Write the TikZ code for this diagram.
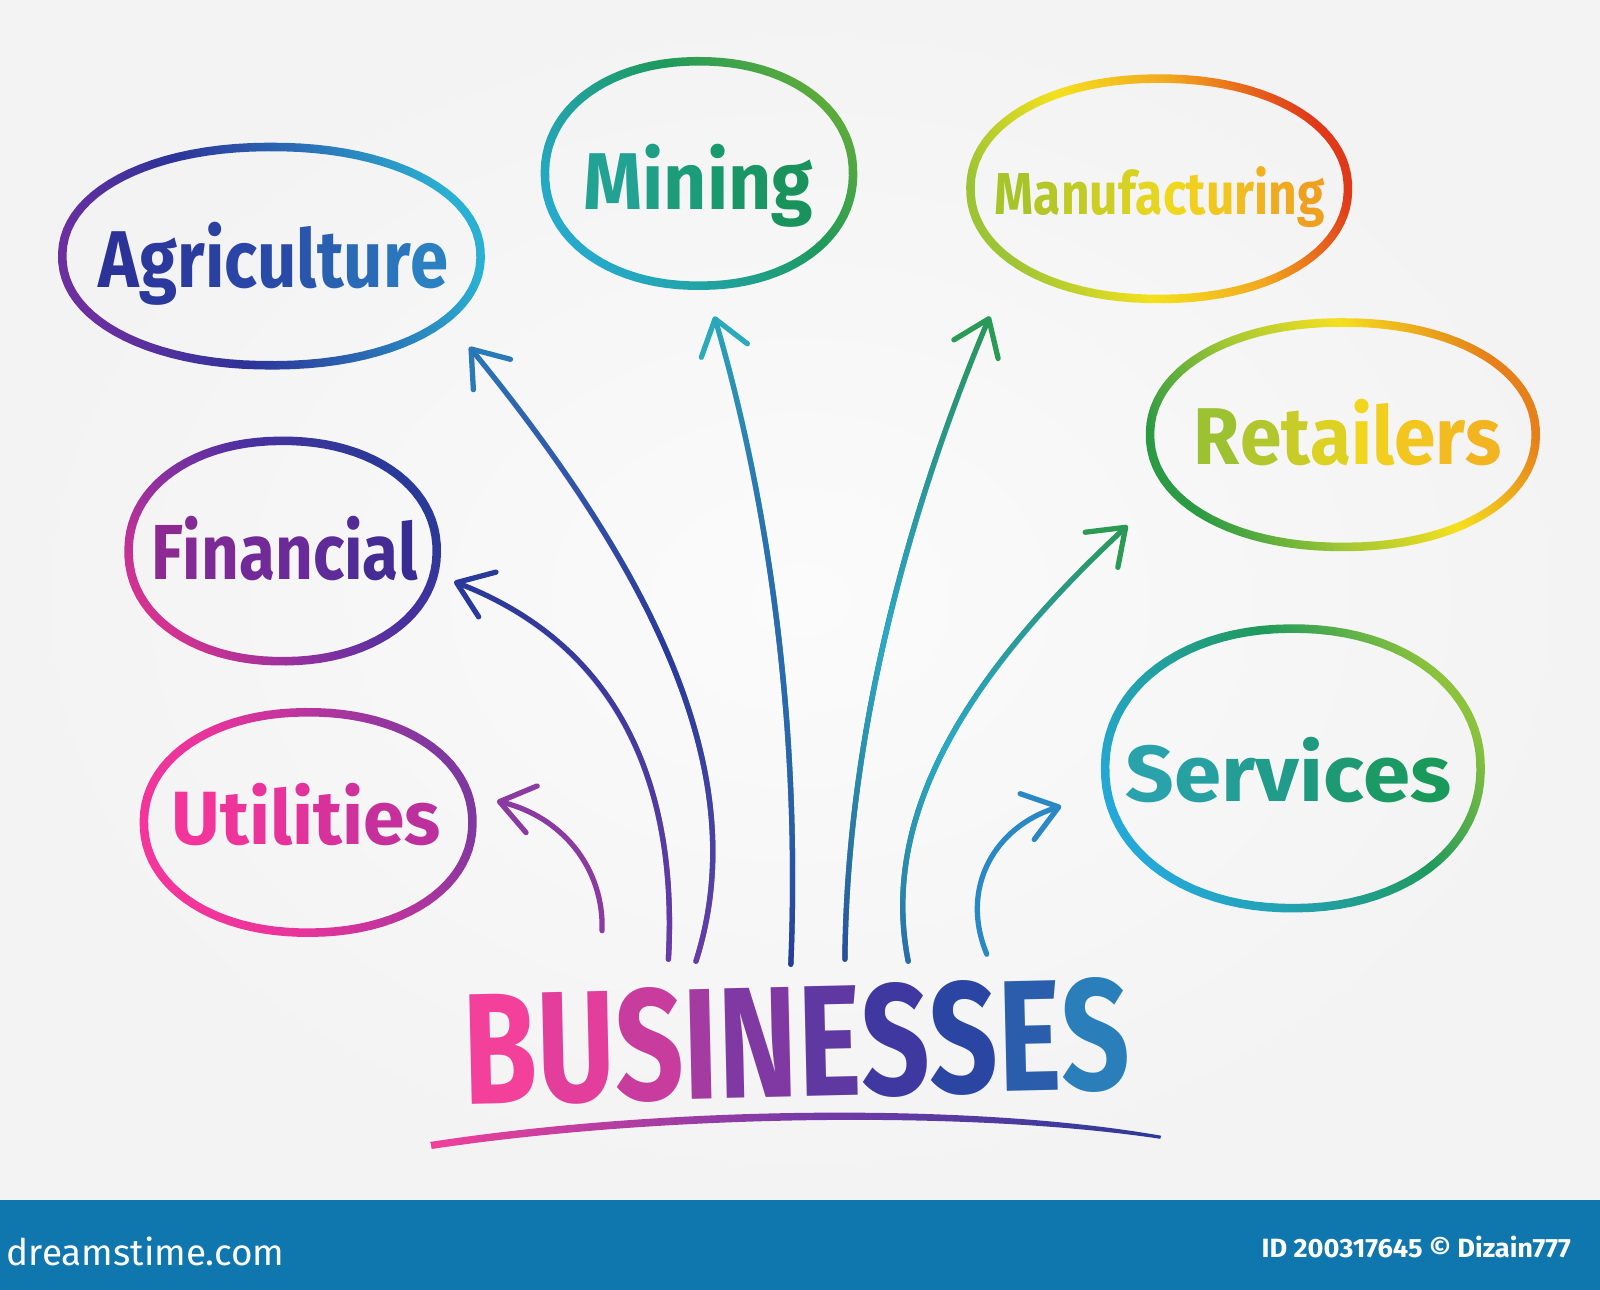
\documentclass[tikz,border=0pt]{standalone}
\usepackage{fontspec}
\setmainfont{Fira Sans}
\usetikzlibrary{arrows.meta,fadings}
\newlength\upx
\setlength\upx{0.010204cm}
% background / bar
\definecolor{bgin}{HTML}{FBFBFB}
\definecolor{bgout}{HTML}{F3F3F3}
\definecolor{barc}{HTML}{1077AE}
% ellipse shading colours
\definecolor{ag1}{HTML}{6B2FA0}\definecolor{ag2}{HTML}{2C3399}\definecolor{ag3}{HTML}{2A6CB4}\definecolor{ag4}{HTML}{2AB0D2}
\definecolor{mi1}{HTML}{25AACB}\definecolor{mi2}{HTML}{20A196}\definecolor{mi3}{HTML}{1E9A5C}\definecolor{mi4}{HTML}{5AAA3C}
\definecolor{ma1}{HTML}{9CC434}\definecolor{ma2}{HTML}{F3E11D}\definecolor{ma3}{HTML}{F2A81E}\definecolor{ma4}{HTML}{E0391A}
\definecolor{re1}{HTML}{2A9A44}\definecolor{re2}{HTML}{A4C832}\definecolor{re3}{HTML}{F5E01E}\definecolor{re4}{HTML}{E5801A}
\definecolor{fi1}{HTML}{D23391}\definecolor{fi2}{HTML}{8A30A0}\definecolor{fi3}{HTML}{4A30A0}\definecolor{fi4}{HTML}{293A98}
\definecolor{ut1}{HTML}{F4359B}\definecolor{ut2}{HTML}{E6349B}\definecolor{ut3}{HTML}{B8349E}\definecolor{ut4}{HTML}{7E38A0}
\definecolor{se1}{HTML}{24A8D8}\definecolor{se2}{HTML}{22A0A2}\definecolor{se3}{HTML}{1F9A5C}\definecolor{se4}{HTML}{8CC23C}
% text colours
\definecolor{agt1}{HTML}{2B3399}\definecolor{agt2}{HTML}{2A4AA8}\definecolor{agt3}{HTML}{2A80C0}
\definecolor{mit1}{HTML}{22A292}\definecolor{mit2}{HTML}{1A9A72}\definecolor{mit3}{HTML}{1A925C}
\definecolor{mat1}{HTML}{A8C428}\definecolor{mat2}{HTML}{F0D81E}\definecolor{mat3}{HTML}{F0A020}
\definecolor{ret1}{HTML}{9CC232}\definecolor{ret2}{HTML}{F2D61E}\definecolor{ret3}{HTML}{F2B420}
\definecolor{fit1}{HTML}{8C2A92}\definecolor{fit2}{HTML}{6A2A9A}\definecolor{fit3}{HTML}{382C92}
\definecolor{utt1}{HTML}{F2349B}\definecolor{utt2}{HTML}{E2329B}\definecolor{utt3}{HTML}{BC309E}
\definecolor{set1}{HTML}{2AA2AC}\definecolor{set2}{HTML}{1F9A84}\definecolor{set3}{HTML}{1A9A5A}
% arrow colours
\definecolor{arpurple}{HTML}{8A3AA0}
\definecolor{ardark}{HTML}{2A3A9A}
\definecolor{arviolet}{HTML}{6E3AA8}
\definecolor{arblue}{HTML}{2A7AB8}
\definecolor{armid}{HTML}{2A6AB0}
\definecolor{arteal}{HTML}{2AAABB}
\definecolor{argreen}{HTML}{2A9A55}
\definecolor{arcyan}{HTML}{2AAAC8}
\definecolor{arbot}{HTML}{2A4AA0}
\definecolor{arserv}{HTML}{2A88C4}
% underline
\definecolor{ul1}{HTML}{F0409A}\definecolor{ul2}{HTML}{7A3AA8}\definecolor{ul3}{HTML}{2A3A98}

\pgfdeclarehorizontalshading{agrish}{100bp}{color(0bp)=(ag1); color(25bp)=(ag1); color(42bp)=(ag2); color(58bp)=(ag3); color(75bp)=(ag4); color(100bp)=(ag4)}
\pgfdeclarehorizontalshading{minsh}{100bp}{color(0bp)=(mi1); color(25bp)=(mi1); color(42bp)=(mi2); color(58bp)=(mi3); color(75bp)=(mi4); color(100bp)=(mi4)}
\pgfdeclarehorizontalshading{mansh}{100bp}{color(0bp)=(ma1); color(25bp)=(ma1); color(42bp)=(ma2); color(58bp)=(ma3); color(75bp)=(ma4); color(100bp)=(ma4)}
\pgfdeclarehorizontalshading{retsh}{100bp}{color(0bp)=(re1); color(25bp)=(re1); color(42bp)=(re2); color(58bp)=(re3); color(75bp)=(re4); color(100bp)=(re4)}
\pgfdeclarehorizontalshading{finsh}{100bp}{color(0bp)=(fi1); color(25bp)=(fi1); color(42bp)=(fi2); color(58bp)=(fi3); color(75bp)=(fi4); color(100bp)=(fi4)}
\pgfdeclarehorizontalshading{utish}{100bp}{color(0bp)=(ut1); color(25bp)=(ut1); color(42bp)=(ut2); color(58bp)=(ut3); color(75bp)=(ut4); color(100bp)=(ut4)}
\pgfdeclarehorizontalshading{sersh}{100bp}{color(0bp)=(se1); color(25bp)=(se1); color(42bp)=(se2); color(58bp)=(se3); color(75bp)=(se4); color(100bp)=(se4)}

\tikzfading[name=fadeup, top color=transparent!100, bottom color=transparent!0]
\tikzfading[name=fademid, top color=transparent!100, bottom color=transparent!100, middle color=transparent!0]

\newcommand\gradtext[5]{%
  \foreach \ch [count=\i from 0] in {#5}{%
    \pgfmathtruncatemacro\pp{200*\i/#4}%
    \ifnum\pp<100
      \pgfmathtruncatemacro\qq{100-\pp}%
      \textcolor{#1!\qq!#2}{\ch}%
    \else
      \pgfmathtruncatemacro\qq{200-\pp}%
      \textcolor{#2!\qq!#3}{\ch}%
    \fi}}

% slightly full hand drawn oval ring, shaded
\newcommand\ringdraw[7]{%
  \pgfmathsetmacro\rxo{#4+4.2}\pgfmathsetmacro\ryo{#5+4.2}%
  \pgfmathsetmacro\rxi{#4-4.2}\pgfmathsetmacro\ryi{#5-4.2}%
  \coordinate (#1) at (#2,#3);
  \shade[shading=#6, shading angle=#7, even odd rule]
    plot[domain=1:361, samples=91, variable=\t]
      ({#2+\rxo*cos(\t)*abs(cos(\t))^(-0.05)}, {#3+\ryo*sin(\t)*abs(sin(\t))^(-0.05)}) -- cycle
    plot[domain=1:361, samples=91, variable=\t]
      ({#2+\rxi*cos(\t)*abs(cos(\t))^(-0.05)}, {#3+\ryi*sin(\t)*abs(sin(\t))^(-0.05)}) -- cycle;}

\tikzset{
  lbl/.style={inner sep=0pt, outer sep=0pt, font=\bfseries},
  arr/.style={line width=1.5pt, line cap=round, -{Straight Barb[length=3.3mm,width=4.8mm,round]}},
  arrbody/.style={line width=1.5pt, line cap=round}
}

\begin{document}
\begin{tikzpicture}[x=0.010204cm, y=-0.010204cm]
\useasboundingbox (0,0) rectangle (1568,1264);
\shade[inner color=bgin, outer color=bgout] (0,0) rectangle (1568,1176);
\fill[barc] (0,1176) rectangle (1568,1264);

% ellipses
\ringdraw{agri}{266}{251}{205}{107}{agrish}{20}
\ringdraw{mini}{685}{170}{151}{110}{minsh}{40}
\ringdraw{manu}{1136}{185}{185}{108}{mansh}{25}
\ringdraw{reta}{1316}{426}{189}{110}{retsh}{30}
\ringdraw{fina}{277}{540}{151}{108}{finsh}{40}
\ringdraw{util}{302}{806}{161}{108}{utish}{25}
\ringdraw{serv}{1267}{753}{184}{137}{sersh}{35}

% labels
\node[lbl, anchor=base west] (tagri) at (97,282) {\resizebox{343\upx}{64\upx}{\gradtext{agt1}{agt2}{agt3}{10}{A,g,r,i,c,u,l,t,u,r,e}}};
\node[lbl, anchor=base west] (tmini) at (572,205) {\resizebox{225\upx}{64\upx}{\gradtext{mit1}{mit2}{mit3}{5}{M,i,n,i,n,g}}};
\node[lbl, anchor=base west] (tmanu) at (975,210) {\resizebox{323\upx}{47\upx}{\gradtext{mat1}{mat2}{mat3}{12}{M,a,n,u,f,a,c,t,u,r,i,n,g}}};
\node[lbl, anchor=base west] (treta) at (1170,455) {\resizebox{302\upx}{64\upx}{\gradtext{ret1}{ret2}{ret3}{8}{R,e,t,a,i,l,e,r,s}}};
\node[lbl, anchor=base west] (tfina) at (148,568) {\resizebox{262\upx}{62\upx}{\gradtext{fit1}{fit2}{fit3}{8}{F,i,n,a,n,c,i,a,l}}};
\node[lbl, anchor=base west] (tutil) at (168,828) {\resizebox{264\upx}{60\upx}{\gradtext{utt1}{utt2}{utt3}{8}{U,t,i,l,i,t,i,e,s}}};
\node[lbl, anchor=base west] (tserv) at (1103,785) {\resizebox{320\upx}{63\upx}{\gradtext{set1}{set2}{set3}{7}{S,e,r,v,i,c,e,s}}};

% title
\node[lbl, anchor=base west, rotate=1.3] (title) at (455,1082) {\resizebox{653\upx}{110\upx}{%
\textcolor[HTML]{F2409B}{B}\textcolor[HTML]{E43E9C}{U}\textcolor[HTML]{C83C9E}{S}\textcolor[HTML]{A43BA0}{I}\textcolor[HTML]{8039A2}{N}%
\textcolor[HTML]{6038A2}{E}\textcolor[HTML]{3F38A0}{S}\textcolor[HTML]{2A45A2}{S}\textcolor[HTML]{2A5EAC}{E}\textcolor[HTML]{2A7EBA}{S}}};
\shade[left color=ul1, right color=ul3, middle color=ul2]
  (422,1119) .. controls (650,1084) and (950,1080) .. (1138,1113)
  -- (1137,1116) .. controls (950,1088) and (650,1092) .. (423,1126) -- cycle;

% arrow end points
\coordinate (s1) at (590,912);  \coordinate (t1) at (487,785);
\coordinate (s2) at (655,940);  \coordinate (t2) at (445,570);
\coordinate (s3) at (682,942);  \coordinate (t3) at (460,340);
\coordinate (s4) at (775,945);  \coordinate (t4) at (700,310);
\coordinate (s5) at (828,940);  \coordinate (t5) at (970,310);
\coordinate (s6) at (890,942);  \coordinate (t6) at (1105,515);
\coordinate (s7) at (967,935);  \coordinate (t7) at (1040,790);

% Utilities arrow
\draw[arr, arpurple] (s1) .. controls (592,850) and (550,800) .. (t1);
% Financial arrow
\draw[arr, ardark] (s2) .. controls (665,760) and (600,630) .. (t2);
\draw[arrbody, arviolet, path fading=fadeup] (s2) .. controls (665,760) and (600,630) .. (t2);
% Agriculture arrow
\draw[arr, arblue] (s3) .. controls (740,760) and (640,560) .. (t3);
\draw[arrbody, arviolet, path fading=fadeup] (s3) .. controls (740,760) and (640,560) .. (t3);
\draw[arrbody, ardark, path fading=fademid] (s3) .. controls (740,760) and (640,560) .. (t3);
% Mining arrow
\draw[arr, arteal] (s4) .. controls (785,700) and (750,480) .. (t4);
\draw[arrbody, ardark, path fading=fadeup] (s4) .. controls (785,700) and (750,480) .. (t4);
\draw[arrbody, armid, path fading=fademid] (s4) .. controls (785,700) and (750,480) .. (t4);
% Manufacturing arrow
\draw[arr, argreen] (s5) .. controls (830,720) and (890,500) .. (t5);
\draw[arrbody, arbot, path fading=fadeup] (s5) .. controls (830,720) and (890,500) .. (t5);
\draw[arrbody, arcyan, path fading=fademid] (s5) .. controls (830,720) and (890,500) .. (t5);
% Retailers arrow
\draw[arr, argreen] (s6) .. controls (860,790) and (960,650) .. (t6);
\draw[arrbody, armid, path fading=fadeup] (s6) .. controls (860,790) and (960,650) .. (t6);
\draw[arrbody, arcyan, path fading=fademid] (s6) .. controls (860,790) and (960,650) .. (t6);
% Services arrow
\draw[arr, arserv] (s7) .. controls (940,870) and (975,810) .. (t7);

% footer texts
\node[inner sep=0pt, anchor=base west, text=white] (brand) at (6,1240) {\resizebox{272\upx}{28\upx}{dreamstime.com}};
\node[inner sep=0pt, anchor=base east, text=white, font=\bfseries] (imgid) at (1540,1232) {\resizebox{303\upx}{21\upx}{ID 200317645 © Dizain777}};
\end{tikzpicture}
\end{document}
